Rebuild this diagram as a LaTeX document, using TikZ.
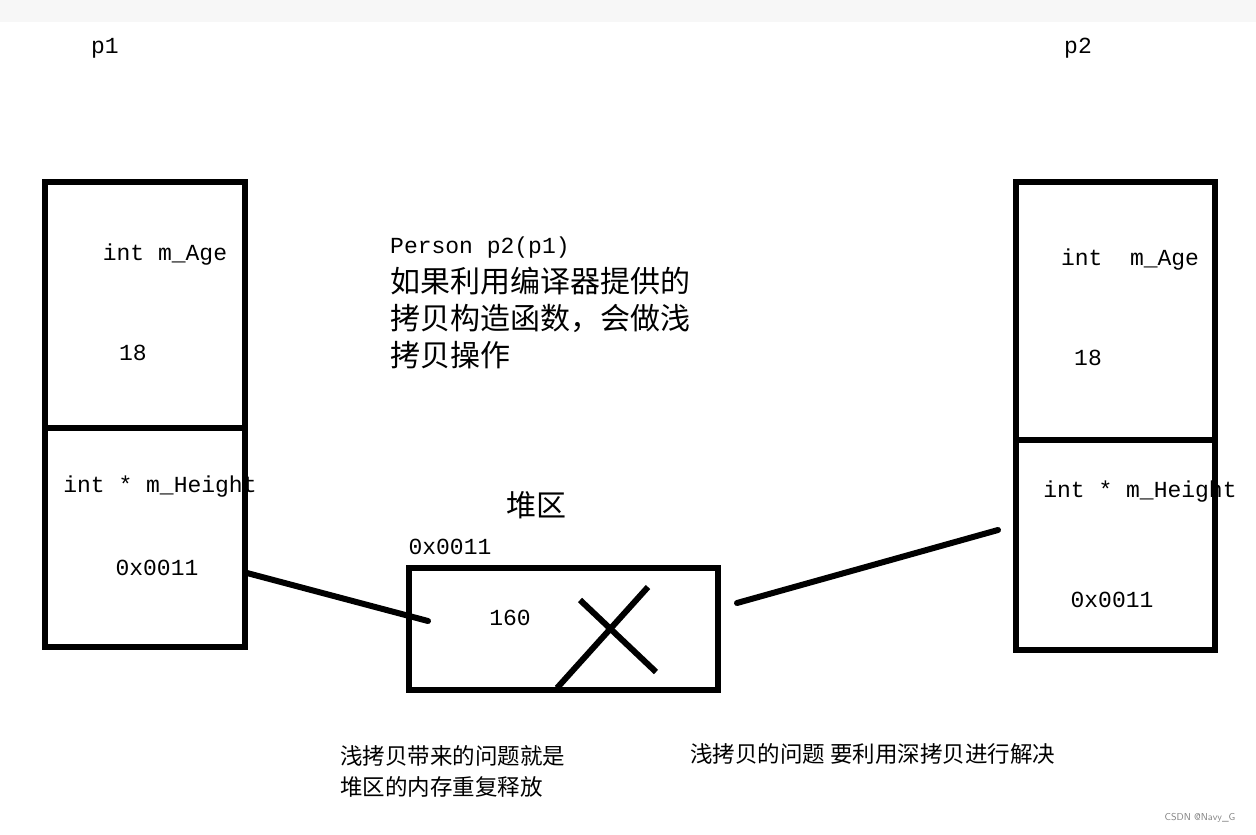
\documentclass[tikz,border=0pt]{standalone}
\usepackage{fontspec}
\setmonofont{Liberation Mono}
\newfontfamily\cjk{Noto Sans CJK SC}
\begin{document}
\begin{tikzpicture}[x=1pt,y=-1pt,
  box/.style={line width=6pt},
  wire/.style={line width=6pt,line cap=round},
  lat/.style={font=\ttfamily\fontsize{23}{26}\selectfont,inner sep=0pt},
  zh/.style={font=\cjk\fontsize{30}{37}\selectfont,inner sep=0pt,align=left},
  zhs/.style={font=\cjk\fontsize{22.5}{31}\selectfont,inner sep=0pt,align=left}]
\useasboundingbox (0,0) rectangle (1256,835);
\fill[gray!6] (0,0) rectangle (1256,22);
% left box
\draw[box] (45,182) rectangle (245,647);
\draw[box] (45,428) -- (245,428);
% right box
\draw[box] (1016,182) rectangle (1215,650);
\draw[box] (1016,440) -- (1215,440);
% heap box
\draw[box] (409,568) rectangle (718,690);
\draw[line width=6pt] (557,688) -- (648,587);
\draw[line width=6pt] (580,600) -- (656,672);
\coordinate (la) at (247,573); \coordinate (lb) at (428,621);
\coordinate (ra) at (737,603); \coordinate (rb) at (998,530);
\draw[wire] (la) -- (lb);
\draw[wire] (ra) -- (rb);
\node[lat] (p1) at (105,48) {p1};
\node[lat] (p2) at (1078,48) {p2};
\node[lat] (la1) at (165,255) {int m\_Age};
\node[lat] (la2) at (133,353) {18};
\node[lat] (la3) at (160,487) {int * m\_Height};
\node[lat] (la4) at (157,568) {0x0011};
\node[lat] (ra1) at (1130,260) {int~~m\_Age};
\node[lat] (ra2) at (1088,358) {18};
\node[lat] (ra3) at (1140,492) {int * m\_Height};
\node[lat] (ra4) at (1112,600) {0x0011};
\node[lat,anchor=west] (pp) at (390,248) {Person p2(p1)};
\node[zh,anchor=north west] (t1) at (390,267) {如果利用编译器提供的\\拷贝构造函数，会做浅\\拷贝操作};
\node[zh] (heap) at (536,505) {堆区};
\node[lat] (ha) at (450,547) {0x0011};
\node[lat] (hv) at (510,618) {160};
\node[zhs,anchor=north west] (b1) at (340,745) {浅拷贝带来的问题就是\\堆区的内存重复释放};
\node[zhs,anchor=west] (b2) at (690,754) {浅拷贝的问题 要利用深拷贝进行解决};
\node[font=\sffamily\fontsize{10}{12}\selectfont,text=gray,inner sep=0pt] (c) at (1200,818) {CSDN @Navy\_G};
\end{tikzpicture}
\end{document}
